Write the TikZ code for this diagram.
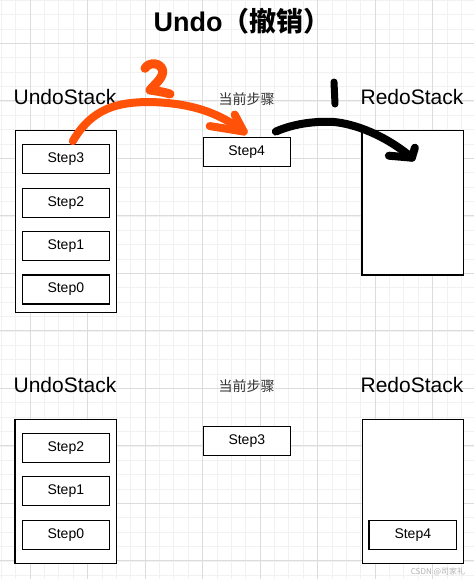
\documentclass[tikz,border=0pt]{standalone}
\usepackage{fontspec}
\setmainfont{Liberation Sans}
\newfontfamily\cjk{Noto Sans CJK SC}
\usetikzlibrary{calc}
\definecolor{minorg}{HTML}{F1F1F1}
\definecolor{majorg}{HTML}{DCDCDC}
\definecolor{penorange}{HTML}{FF5208}
\tikzset{
  stackbox/.style={draw=black, line width=1.3pt, fill=white, inner sep=0pt},
  stepbox/.style={draw=black, line width=1.3pt, fill=white, minimum width=87pt, minimum height=29pt, inner sep=0pt, font=\fontsize{14}{16}\selectfont},
  stacklabel/.style={inner sep=0pt, font=\fontsize{21}{24}\selectfont},
  curlabel/.style={inner sep=0pt, font=\cjk\fontsize{14}{16}\selectfont, text=black!80},
  orangepen/.style={draw=penorange, line width=8pt, line cap=round, line join=round},
  blackpen/.style={draw=black, line width=8pt, line cap=round, line join=round},
}
\begin{document}
\begin{tikzpicture}[x=1pt, y=-1pt]
\useasboundingbox (0,0) rectangle (474,579);
\fill[white] (0,0) rectangle (474,579);
% grid
\foreach \i in {0,...,33} \draw[minorg, line width=0.6pt] ({1.25+14.375*\i},0) -- ++(0,579);
\foreach \j in {0,...,40} \draw[minorg, line width=0.6pt] (0,{0.175+14.375*\j}) -- ++(474,0);
\foreach \i in {0,...,7} \draw[majorg, line width=0.8pt] ({30+57.5*\i},0) -- ++(0,579);
\foreach \j in {0,...,9} \draw[majorg, line width=0.8pt] (0,{43.3+57.5*\j}) -- ++(474,0);

% title
\node[inner sep=0pt] (title) at (242,21.7) {\fontsize{27}{30}\selectfont\bfseries Undo{\cjk\bfseries （撤销）}};

% ---------- top part ----------
\node[stacklabel] (ul1) at (65,96.7) {UndoStack};
\node[curlabel] (cl1) at (246.5,99) {当前步骤};
\node[stacklabel] (rl1) at (412,96.7) {RedoStack};

\node[stackbox, minimum width=101.4pt, minimum height=182pt] (us1) at (66,221.7) {};
\node[stepbox] (a3) at (65.8,159.3) {Step3};
\node[stepbox] (a2) at (65.8,202.8) {Step2};
\node[stepbox] (a1) at (65.8,246.2) {Step1};
\node[stepbox] (a0) at (65.8,289.5) {Step0};
\node[stepbox] (cur1) at (246.7,152.2) {Step4};
\node[stackbox, minimum width=101.7pt, minimum height=144.7pt] (rs1) at (412.9,202.7) {};

% ---------- bottom part ----------
\node[stacklabel] (ul2) at (65,385) {UndoStack};
\node[curlabel] (cl2) at (246.5,386) {当前步骤};
\node[stacklabel] (rl2) at (412,385) {RedoStack};

\node[stackbox, minimum width=101.7pt, minimum height=144.4pt] (us2) at (65.8,491.5) {};
\node[stepbox] (b2) at (65.8,448) {Step2};
\node[stepbox] (b1) at (65.8,491.3) {Step1};
\node[stepbox] (b0) at (65.8,534.8) {Step0};
\node[stepbox] (cur2) at (246.8,441) {Step3};
\node[stackbox, minimum width=101.4pt, minimum height=144.4pt] (rs2) at (413,491.5) {};
\node[stepbox, minimum width=87.7pt] (b4) at (412.8,534.8) {Step4};

% watermark
\node[inner sep=0pt, text=black!30, font=\cjk\fontsize{8}{9}\selectfont] (wm) at (438,571.5) {CSDN @司家礼};

% ---------- hand-drawn annotations ----------
% orange arrow (2): Step3 -> current step
\coordinate (os) at ($(a3.north)+(7,-3)$);
\coordinate (ot) at ($(cur1.north)+(-3,-5.5)$);
\draw[orangepen] (os) .. controls (92,108) and (118,102) .. (150,102)
   .. controls (190,103) and (218,112) .. (ot);
\draw[orangepen] ($(ot)+(-34,-5.5)$) -- (ot) -- ($(ot)+(-9,-17)$);
% hand-drawn 2
\draw[orangepen, line width=9pt] (145,68.3) .. controls (149,62) and (160,62) .. (162.5,70)
   .. controls (164,77) and (156,83) .. (150,90)
   .. controls (156,91) and (164,92) .. (170,94);

% black arrow (1): current step -> RedoStack
\coordinate (bs) at ($(cur1.north east)+(-15,-5.5)$);
\coordinate (bt) at ($(rs1.north)+(-1,28)$);
\draw[blackpen] (bs) .. controls (295,123) and (318,121) .. (334,122)
   .. controls (355,124) and (385,135) .. (bt);
\draw[blackpen] ($(bt)+(-23,-2)$) -- (bt) -- ($(bt)+(3,-10)$);
% hand-drawn 1
\draw[blackpen, line width=7pt] (334,82) -- (335,104);
\end{tikzpicture}
\end{document}
